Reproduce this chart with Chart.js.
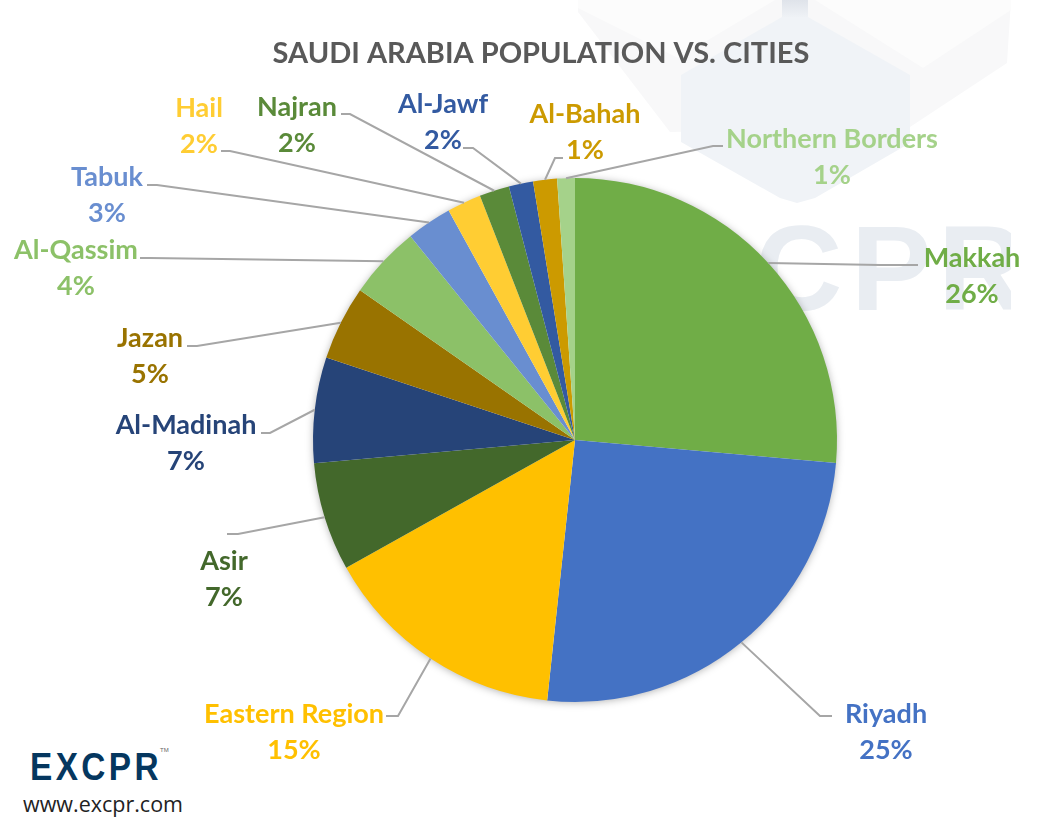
<!DOCTYPE html>
<html>
<head>
<meta charset="utf-8">
<title>Saudi Arabia population vs. cities</title>
<script src="https://cdn.jsdelivr.net/npm/chart.js@4"></script>
<style>
    body { margin: 0; background: #fff; }
    #page { position: relative; width: 1050px; height: 834px; overflow: hidden; }
    #page svg, #page canvas { position: absolute; left: 0; top: 0; }
</style>
</head>
<body>
<div id="page">
    <!-- filigrane + logo -->
    <svg width="1050" height="834">
        <defs>
            <clipPath id="wm"><rect x="578" y="0" width="433" height="320"/></clipPath>
            <linearGradient id="neck" x1="0" y1="0" x2="0" y2="1"><stop offset="0" stop-color="#dfe3ea"/><stop offset="1" stop-color="#eff2f6"/></linearGradient>
        </defs>
        <polygon points="578,0 578,12 670,132 910,127 1007,63 1011,0" fill="#f8f8f9"/>
        <polygon points="775,0 678,58 578,8 578,0" fill="#fcfcfc"/>
        <polygon points="815,0 923,68 1011,10 1011,0" fill="#fcfcfc"/>
        <polygon points="782,17 681,75 681,142 780,198 797,203 815,198 910,143 910,75 808,17" fill="#f0f3f7"/>
        <polygon points="782,0 782,17 808,17 808,0" fill="url(#neck)"/>
        <g clip-path="url(#wm)" font-family="Liberation Sans" font-weight="bold" font-size="121" fill="#e9edf2">
            <text x="755" y="310">C</text>
            <text x="851" y="310">P</text>
            <text x="938" y="310">R</text>
        </g>
        <text x="30" y="780" font-family="Liberation Sans" font-weight="bold" font-size="39" letter-spacing="4" textLength="132" lengthAdjust="spacingAndGlyphs" fill="#05375f">EXCPR</text>
        <text x="160" y="752" font-family="Liberation Sans" font-size="6" fill="#666">TM</text>
        <text x="23" y="812" font-family="Open Sans" font-size="21.5" fill="#222">www.excpr.com</text>
    </svg>
    <canvas id="popChart" width="1050" height="834"></canvas>
</div>
<script>
// --- DONNEES ---
const cities = ['Makkah', 'Riyadh', 'Eastern Region', 'Asir', 'Al-Madinah', 'Jazan', 'Al-Qassim', 'Tabuk', 'Hail', 'Najran', 'Al-Jawf', 'Al-Bahah', 'Northern Borders'];
const shares = [26.4, 25.3, 15.2, 6.7, 6.5, 4.6, 4.5, 2.8, 2.1, 1.85, 1.5, 1.47, 1.09];
const shownPercents = [26, 25, 15, 7, 7, 5, 4, 3, 2, 2, 2, 1, 1];
const sliceColors = ['#70ad47', '#4472c4', '#ffc000', '#43682b', '#264478', '#997300', '#8cc168', '#698ed0', '#ffcd33', '#5a8a39', '#335aa1', '#cc9a00', '#a5d28a'];

// --- PLACEMENT DES ETIQUETTES (centre du texte, coude et fin du trait) ---
const labelCenters = [[972, 258], [886, 714], [294, 714], [224, 561], [186, 425], [150, 338], [76, 250], [107, 177], [199, 108], [297, 107], [443, 104], [585, 114], [832, 139]];
const leaderElbows = [[880, 265], [820, 716], [398, 716], [238, 534], [270, 433], [197, 346], [150, 258], [157, 185], [230, 151], [350, 114], [473, 148], [555, 158], [713, 146]];
const leaderEnds = [[918, 265], [832, 716], [386, 716], [227, 534], [261, 433], [187, 346], [140, 258], [147, 185], [221, 151], [341, 114], [463, 148], [563, 158], [723, 146]];
const lineGap = 36;

// Ombre sous le camembert
const pieShadow = {
    id: 'pieShadow',
    beforeDatasetsDraw(chart) {
        const arc = chart.getDatasetMeta(0).data[0];
        const ctx = chart.ctx;
        ctx.save();
        ctx.shadowColor = 'rgba(0,0,0,0.35)';
        ctx.shadowBlur = 8;
        ctx.shadowOffsetY = 1;
        ctx.fillStyle = '#fff';
        ctx.beginPath();
        ctx.arc(arc.x, arc.y, arc.outerRadius - 1, 0, Math.PI * 2);
        ctx.fill();
        ctx.restore();
    }
};

// Traits de rappel + etiquettes (nom / pourcentage)
const outsideLabels = {
    id: 'outsideLabels',
    afterDatasetsDraw(chart) {
        const ctx = chart.ctx;
        chart.getDatasetMeta(0).data.forEach((arc, i) => {
            const mid = (arc.startAngle + arc.endAngle) / 2;
            ctx.save();
            ctx.strokeStyle = '#a6a6a6';
            ctx.lineWidth = 2;
            ctx.beginPath();
            ctx.moveTo(arc.x + Math.cos(mid) * arc.outerRadius, arc.y + Math.sin(mid) * arc.outerRadius);
            ctx.lineTo(leaderElbows[i][0], leaderElbows[i][1]);
            ctx.lineTo(leaderEnds[i][0], leaderEnds[i][1]);
            ctx.stroke();

            ctx.font = 'bold 27px Lato';
            ctx.fillStyle = sliceColors[i];
            ctx.textAlign = 'center';
            ctx.textBaseline = 'middle';
            ctx.fillText(cities[i], labelCenters[i][0], labelCenters[i][1]);
            ctx.fillText(shownPercents[i] + '%', labelCenters[i][0], labelCenters[i][1] + lineGap);
            ctx.restore();
        });
    }
};

// Le titre n'est pas centre sur le camembert dans l'original
const shiftTitle = {
    id: 'shiftTitle',
    afterLayout(chart) {
        chart.titleBlock.left = 241;
        chart.titleBlock.right = 841;
    }
};

new Chart(document.getElementById('popChart'), {
    type: 'pie',
    data: {
        labels: cities,
        datasets: [{ data: shares, backgroundColor: sliceColors, borderWidth: 0 }]
    },
    options: {
        responsive: false,
        animation: false,
        layout: { padding: { left: 313, right: 213, top: 0, bottom: 132 } },
        plugins: {
            legend: { display: false },
            tooltip: { enabled: false },
            title: {
                display: true,
                text: 'SAUDI ARABIA POPULATION VS. CITIES',
                color: '#595959',
                font: { family: 'Lato', size: 29, weight: 'bold', lineHeight: 1.2 },
                padding: { top: 36.6, bottom: 106.6 }
            }
        }
    },
    plugins: [pieShadow, outsideLabels, shiftTitle]
});
</script>
</body>
</html>
